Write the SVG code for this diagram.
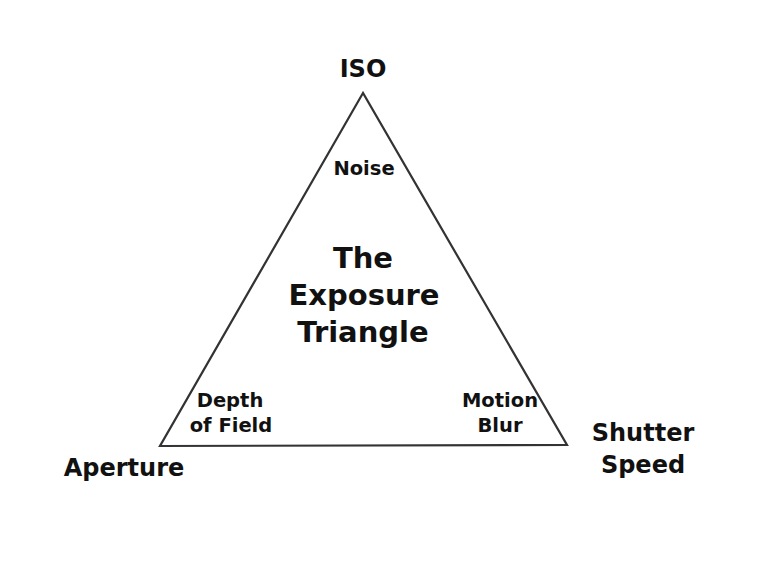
<svg xmlns="http://www.w3.org/2000/svg" width="764" height="562" viewBox="0 0 764 562">
<style>
text{font-family:"DejaVu Sans","Verdana",sans-serif;font-weight:bold;fill:#111;text-anchor:middle}
.big{font-size:24px}
.mid{font-size:29px}
.sm{font-size:19.5px}
.tri{fill:none;stroke:#333;stroke-width:2.2;stroke-linejoin:miter}
</style>
<rect width="764" height="562" fill="#fff"/>
<g id="connectors">
<polygon class="tri" points="363,93 160,446 567,445"/>
</g>
<g id="iso"><text class="big" x="363" y="77">ISO</text></g>
<g id="noise"><text class="sm" x="364" y="175">Noise</text></g>
<g id="title">
<text class="mid" x="363" y="268">The</text>
<text class="mid" x="364" y="305">Exposure</text>
<text class="mid" x="363" y="342">Triangle</text>
</g>
<g id="depth">
<text class="sm" x="230" y="407">Depth</text>
<text class="sm" x="231" y="432">of Field</text>
</g>
<g id="motion">
<text class="sm" x="500" y="407">Motion</text>
<text class="sm" x="500" y="432">Blur</text>
</g>
<g id="aperture"><text class="big" x="124" y="476">Aperture</text></g>
<g id="shutter">
<text class="big" x="643" y="441">Shutter</text>
<text class="big" x="643" y="473">Speed</text>
</g>
</svg>
